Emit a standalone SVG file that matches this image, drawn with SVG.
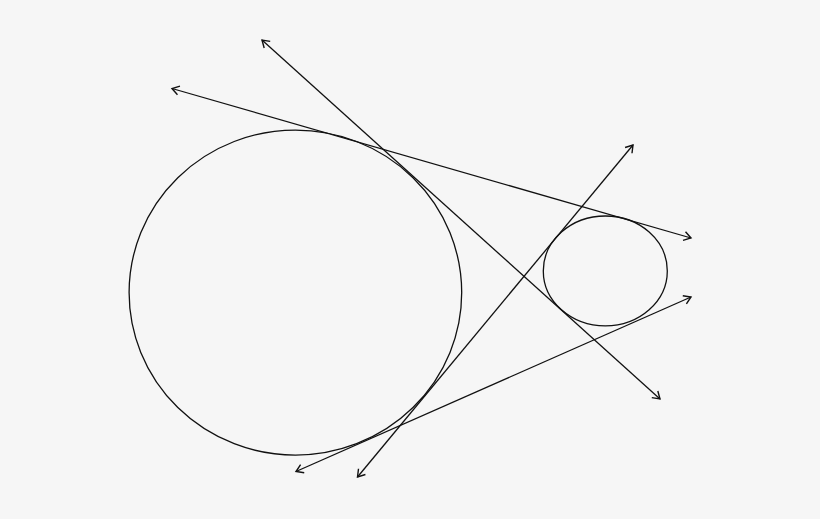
<svg xmlns="http://www.w3.org/2000/svg" width="820" height="519" viewBox="0 0 820 519">
<style>
.s{fill:none;stroke:#111;stroke-width:1.3}
.c{fill:none;stroke:#111;stroke-width:1.3;marker-start:url(#a);marker-end:url(#a)}
</style>
<defs>
<marker id="a" viewBox="-10 -6 12 12" markerWidth="12" markerHeight="12" refX="0" refY="0" orient="auto-start-reverse" markerUnits="userSpaceOnUse">
<path d="M-7,-4.5 L0,0 L-7,4.5" fill="none" stroke="#111" stroke-width="1.4"/>
</marker>
</defs>
<rect width="820" height="519" fill="#f6f6f6"/>
<g id="bigCircle"><ellipse class="s" cx="295.4" cy="292.6" rx="166.3" ry="162.5"/></g>
<g id="smallCircle"><ellipse class="s" cx="605.3" cy="270.9" rx="62" ry="54.9"/></g>
<g id="connectors">
<line class="c" x1="262" y1="40" x2="660" y2="399"/>
<line class="c" x1="172" y1="88.5" x2="691" y2="238"/>
<line class="c" x1="633" y1="145" x2="357.5" y2="477"/>
<line class="c" x1="296" y1="471.5" x2="691" y2="297"/>
</g>
</svg>
